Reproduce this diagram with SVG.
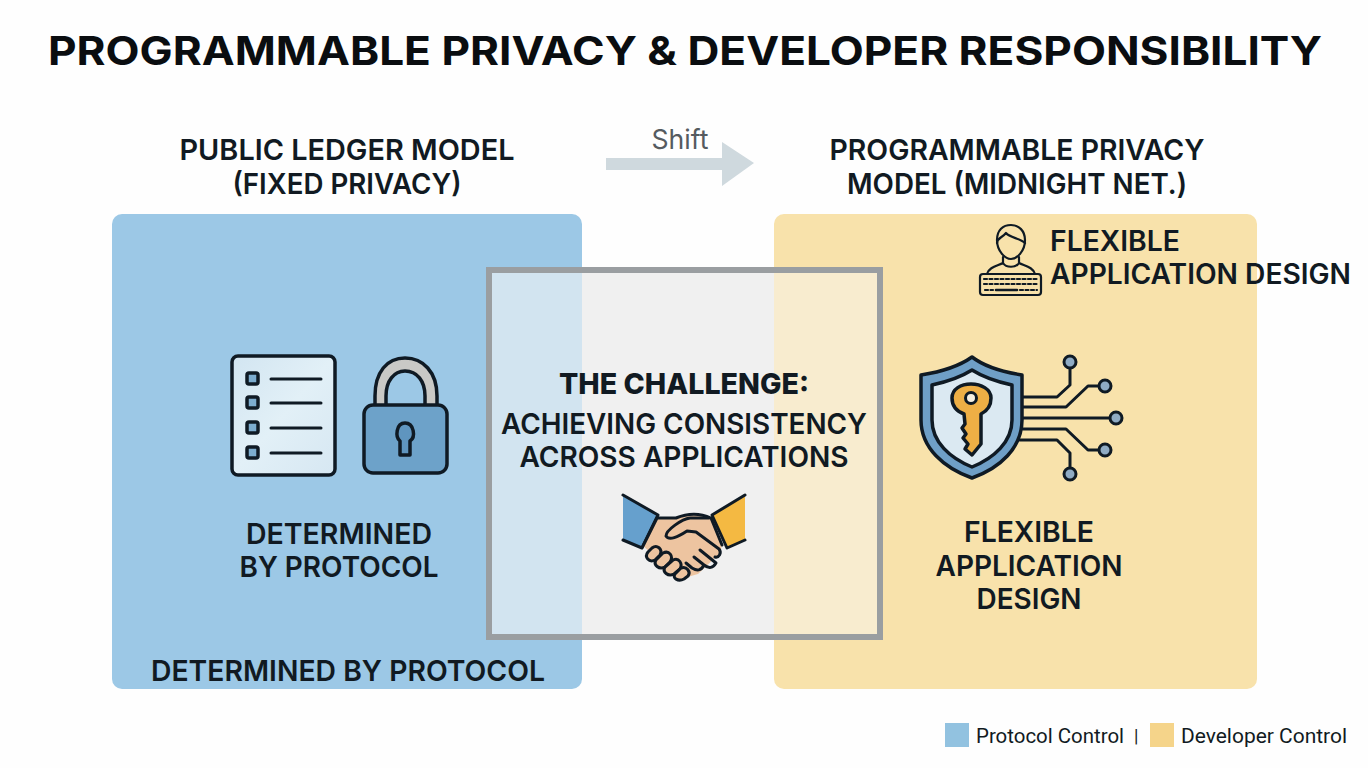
<svg xmlns="http://www.w3.org/2000/svg" width="1368" height="768" viewBox="0 0 1368 768">
<style>
text{font-family:Inter,"Liberation Sans",sans-serif;fill:#111a22}
.t{font-size:29px;font-weight:600;text-anchor:middle}
.h{font-size:28px;font-weight:600}
.lg{font-family:Roboto,"Liberation Sans",sans-serif;font-size:21px}
.ic{stroke:#0f1a24;stroke-width:3.5;stroke-linejoin:round;stroke-linecap:round}
.ln{fill:none;stroke:#0f1a24;stroke-width:3;stroke-linecap:round;stroke-linejoin:round}
.dot{fill:#8fabc4;stroke:#0f1a24;stroke-width:3}
.k{fill:none;stroke:#0f1a24;stroke-width:2.2;stroke-dasharray:3 2.5}
.skin{fill:#edc4a0}
</style>
<defs>
<linearGradient id="paper" x1="0" y1="0" x2="1" y2="1"><stop offset="0" stop-color="#d2e5f1"/><stop offset="0.5" stop-color="#e2f0f7"/><stop offset="1" stop-color="#d6e7f2"/></linearGradient>
</defs>
<rect width="1368" height="768" fill="#fefefe"/>
<text id="title" x="685" y="65" font-size="40" font-weight="700" text-anchor="middle" textLength="1274" lengthAdjust="spacingAndGlyphs" style="fill:#0a0d10">PROGRAMMABLE PRIVACY &amp; DEVELOPER RESPONSIBILITY</text>

<g id="left-heading"><text class="t" x="347" y="160" textLength="335" lengthAdjust="spacingAndGlyphs">PUBLIC LEDGER MODEL</text><text class="t" x="347" y="194" textLength="229" lengthAdjust="spacingAndGlyphs">(FIXED PRIVACY)</text></g>
<g id="right-heading"><text class="t" x="1017" y="160" textLength="375" lengthAdjust="spacingAndGlyphs">PROGRAMMABLE PRIVACY</text><text class="t" x="1017" y="194" textLength="340" lengthAdjust="spacingAndGlyphs">MODEL (MIDNIGHT NET.)</text></g>

<g id="connectors">
<path id="shift-arrow" d="M606 158H722V142L754 163L722 186V170H606Z" fill="#cfd9de"/>
<text x="680" y="149" font-size="27" text-anchor="middle" textLength="57" lengthAdjust="spacingAndGlyphs" style="fill:#555b60">Shift</text>
</g>

<g id="panel-protocol"><rect x="112" y="214" width="470" height="475" rx="10" fill="#9cc8e6"/>
<text class="t" x="348" y="681" textLength="394" lengthAdjust="spacingAndGlyphs">DETERMINED BY PROTOCOL</text></g>
<g id="panel-developer"><rect x="774" y="214" width="483" height="475" rx="10" fill="#f8e2ab"/></g>

<g id="challenge">
<rect x="489" y="270" width="390" height="367" fill="#f0f0f0"/>
<rect x="489" y="270" width="93" height="367" fill="#d2e4f0"/>
<rect x="774" y="270" width="105" height="367" fill="#f8eccf"/>
<rect x="489" y="270" width="391" height="367" fill="none" stroke="#9a9ea1" stroke-width="6"/>
<text x="684" y="394" font-size="29" font-weight="800" text-anchor="middle" textLength="250" lengthAdjust="spacingAndGlyphs">THE CHALLENGE:</text>
<text class="t" x="684" y="434" textLength="366" lengthAdjust="spacingAndGlyphs">ACHIEVING CONSISTENCY</text>
<text class="t" x="684" y="467" textLength="329" lengthAdjust="spacingAndGlyphs">ACROSS APPLICATIONS</text>
<g id="handshake">
<path d="M623 495L658 515L642 548L623 540Z" fill="#66a0cd"/>
<path d="M745 495L712 515L727 548L745 540Z" fill="#f4b942"/>
<path class="ln" d="M623 495L658 515L642 548L623 540M745 495L712 515L727 548L745 540"/>
<path class="skin" d="M657 518L676 518C688 513 700 513 711 518L722 545L720 553L698 574L684 578L650 552L643 546Z"/>
<path class="ln" d="M657 518L676 518C688 513 700 513 711 518M657 518L643 546M711 518L722 545"/>
<path class="skin ln" style="fill:#edc4a0" d="M709 518L690 518C682 519 666 530 666 536C669 541 678 537 687 531L696 532L719 549C722 553 719 558 715 557"/>
<path class="ln" d="M700 550L716 563C713 568 709 569 704 565L694 557M704 565C701 571 697 571 692 568L686 563"/>
<path class="skin ln" style="fill:#edc4a0" d="M648 552L652 548C657 544 663 549 660 555L655 560C649 563 644 557 648 552Z"/>
<path class="skin ln" style="fill:#edc4a0" d="M656 560L663 553C669 550 674 556 670 562L665 567C659 570 653 565 656 560Z"/>
<path class="skin ln" style="fill:#edc4a0" d="M665 567L673 560C679 557 683 564 680 569L674 574C668 577 662 572 665 567Z"/>
<path class="skin ln" style="fill:#edc4a0" d="M675 574L681 568C687 566 691 572 688 576L684 579C678 582 672 578 675 574Z"/>
</g>
</g>

<g id="checklist-icon">
<rect x="232" y="356" width="103" height="119" rx="6" fill="url(#paper)" class="ic"/>
<g fill="#7cacce" class="ic" stroke-width="3">
<rect x="247" y="373" width="11" height="11" rx="2"/><rect x="247" y="397" width="11" height="11" rx="2"/><rect x="247" y="422" width="11" height="11" rx="2"/><rect x="247" y="447" width="11" height="11" rx="2"/>
</g>
<path class="ln" d="M271 379H321M271 403H321M271 428H321M271 453H321"/>
</g>
<g id="lock-icon">
<path d="M375 406V396C375 372 387 358 405 358C423 358 437 372 437 396V406H425V396C425 381 417 371 405 371C394 371 386 381 386 396V406Z" fill="#c9c9c6" class="ic"/>
<rect x="364" y="405" width="83" height="68" rx="9" fill="#6da2c9" class="ic"/>
<path d="M400 441C395 437 396 423 405 423C414 423 416 437 410 441V455H400Z" fill="#5f95bf" class="ic" stroke-width="3"/>
</g>
<g id="protocol-label"><text class="t" x="339" y="544" textLength="186" lengthAdjust="spacingAndGlyphs">DETERMINED</text><text class="t" x="339" y="577" textLength="199" lengthAdjust="spacingAndGlyphs">BY PROTOCOL</text></g>

<g id="developer-icon" fill="none" stroke="#0f1a24" stroke-width="2.2" stroke-linecap="round" stroke-linejoin="round">
<path d="M997 240C997 230 1003 225 1011 225C1019 225 1025 231 1025 240C1025 251 1017 259 1011 259C1005 259 997 251 997 240Z"/>
<path d="M997 243C997 238 1002 238 1006 233C1010 238 1020 238 1025 243"/>
<path d="M1003 257V263C997 266 989 267 987 274M1019 257V263C1025 266 1033 267 1035 274M1003 263C1006 268 1016 268 1019 263"/>
<rect x="980" y="274" width="61" height="21" rx="3" fill="#f8e2ab"/>
<path class="k" d="M984 279H1037M984 284H1037M985 290H993M1020 290H1037"/>
<path d="M996 290H1017" stroke-width="2.6"/>
</g>
<g id="flexible-top"><text class="h" x="1050" y="251" textLength="130" lengthAdjust="spacingAndGlyphs">FLEXIBLE</text><text class="h" x="1050" y="284" textLength="301" lengthAdjust="spacingAndGlyphs">APPLICATION DESIGN</text></g>

<g id="shield-icon">
<path class="ln" d="M1023 397H1057L1070 385V362M1023 407H1066L1088 386H1105M1023 418H1116M1023 429H1066L1088 450H1105M1020 440H1057L1070 453V474"/>
<circle class="dot" cx="1070" cy="362" r="6"/><circle class="dot" cx="1105" cy="386" r="6"/><circle class="dot" cx="1116" cy="418" r="6"/><circle class="dot" cx="1105" cy="450" r="6"/><circle class="dot" cx="1070" cy="474" r="6"/>
<path d="M972 357C985 367 1003 372 1022 375V420C1022 448 1000 468 972 478C944 468 921 448 921 420V375C940 372 958 367 972 357Z" fill="#6f9fc6" class="ic" stroke-width="3"/>
<path d="M972 370C983 377 998 382 1012 385V420C1012 442 994 458 972 467C950 458 932 442 932 420V385C946 382 961 377 972 370Z" fill="#dbe9f2" class="ic" stroke-width="3"/>
<path d="M964 414C956 411 952 405 952 398C952 389 961 384 971 384C981 384 991 389 991 398C991 405 987 411 981 414V444L972 455L965 449L968 444L963 438L966 434L962 428L965 424Z" fill="#eeaf45" class="ic" stroke-width="3"/>
<circle cx="971" cy="398" r="5.5" fill="#f6efe0" stroke="#0f1a24" stroke-width="3"/>
</g>
<g id="developer-label"><text class="t" x="1029" y="542" textLength="130" lengthAdjust="spacingAndGlyphs">FLEXIBLE</text><text class="t" x="1029" y="576" textLength="187" lengthAdjust="spacingAndGlyphs">APPLICATION</text><text class="t" x="1029" y="609" textLength="105" lengthAdjust="spacingAndGlyphs">DESIGN</text></g>

<g id="legend">
<rect x="945" y="723" width="24" height="24" fill="#92c2e0"/>
<text class="lg" x="976" y="743" textLength="148" lengthAdjust="spacingAndGlyphs">Protocol Control</text>
<text class="lg" x="1134" y="742" style="font-size:18px">|</text>
<rect x="1150" y="723" width="24" height="24" fill="#f5d48a"/>
<text class="lg" x="1181" y="743" textLength="166" lengthAdjust="spacingAndGlyphs">Developer Control</text>
</g>
</svg>
